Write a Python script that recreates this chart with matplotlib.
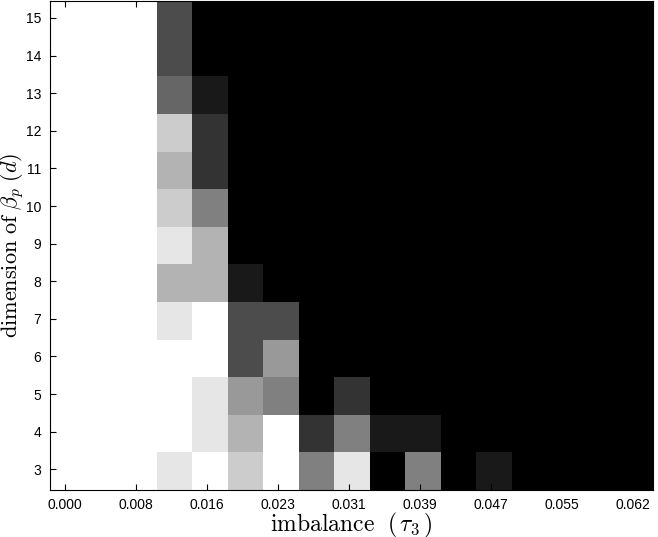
import numpy as np
import matplotlib
matplotlib.use("Agg")
import matplotlib.pyplot as plt

plt.rcParams['mathtext.fontset'] = 'cm'
plt.rcParams['font.family'] = ['Liberation Sans', 'DejaVu Sans']

# imbalance values (tau_3), 17 columns
tau_labels = ["0.000", "0.008", "0.016", "0.023", "0.031", "0.039", "0.047", "0.055", "0.062"]
dims = list(range(3, 16))  # d = 3..15

# success fraction per dimension d (rows) and imbalance column
row_d3  = [1, 1, 1, 0.9, 1.0, 0.8, 1.0, 0.5, 0.9, 0.0, 0.5, 0.0, 0.1, 0, 0, 0, 0]
row_d4  = [1, 1, 1, 1.0, 0.9, 0.7, 1.0, 0.2, 0.5, 0.1, 0.1, 0, 0, 0, 0, 0, 0]
row_d5  = [1, 1, 1, 1.0, 0.9, 0.6, 0.5, 0.0, 0.2, 0, 0, 0, 0, 0, 0, 0, 0]
row_d6  = [1, 1, 1, 1.0, 1.0, 0.3, 0.6, 0, 0, 0, 0, 0, 0, 0, 0, 0, 0]
row_d7  = [1, 1, 1, 0.9, 1.0, 0.3, 0.3, 0, 0, 0, 0, 0, 0, 0, 0, 0, 0]
row_d8  = [1, 1, 1, 0.7, 0.7, 0.1, 0, 0, 0, 0, 0, 0, 0, 0, 0, 0, 0]
row_d9  = [1, 1, 1, 0.9, 0.7, 0, 0, 0, 0, 0, 0, 0, 0, 0, 0, 0, 0]
row_d10 = [1, 1, 1, 0.8, 0.5, 0, 0, 0, 0, 0, 0, 0, 0, 0, 0, 0, 0]
row_d11 = [1, 1, 1, 0.7, 0.2, 0, 0, 0, 0, 0, 0, 0, 0, 0, 0, 0, 0]
row_d12 = [1, 1, 1, 0.8, 0.2, 0, 0, 0, 0, 0, 0, 0, 0, 0, 0, 0, 0]
row_d13 = [1, 1, 1, 0.4, 0.1, 0, 0, 0, 0, 0, 0, 0, 0, 0, 0, 0, 0]
row_d14 = [1, 1, 1, 0.3, 0, 0, 0, 0, 0, 0, 0, 0, 0, 0, 0, 0, 0]
row_d15 = [1, 1, 1, 0.3, 0, 0, 0, 0, 0, 0, 0, 0, 0, 0, 0, 0, 0]

grid = np.array([row_d3, row_d4, row_d5, row_d6, row_d7, row_d8, row_d9,
                 row_d10, row_d11, row_d12, row_d13, row_d14, row_d15])
ncols = grid.shape[1]

fig = plt.figure(figsize=(6.58, 5.37), dpi=100)
ax = fig.add_axes([49.5/658, 47/537, (653-49.5)/658, (490-1)/537])
ax.imshow(grid, cmap='gray', vmin=0, vmax=1, origin='lower', aspect='auto',
          interpolation='nearest',
          extent=(-0.5, ncols - 0.5, dims[0] - 0.5, dims[-1] + 0.5))

xt = np.arange(0, ncols, 2) - 0.07
ax.set_xticks(xt)
ax.set_xticklabels(tau_labels, fontsize=10)
yt = np.array(dims) + 0.05
ax.set_yticks(yt)
ax.set_yticklabels([str(d) for d in dims], fontsize=10)
ax.set_xlim(-0.5, ncols - 0.5)
ax.set_ylim(dims[0] - 0.5, dims[-1] + 0.5)
ax.tick_params(direction='in', top=True, right=True, length=4.5, width=0.8, pad=6)

ax.set_xlabel(r'$\mathrm{imbalance}\ \ (\,\tau_3\,)$', fontsize=17, labelpad=-1)
ax.set_ylabel(r'$\mathrm{dimension\ of}\ \beta_p\ (d)$', fontsize=16, labelpad=0)

fig.savefig('out.png', dpi=100)
